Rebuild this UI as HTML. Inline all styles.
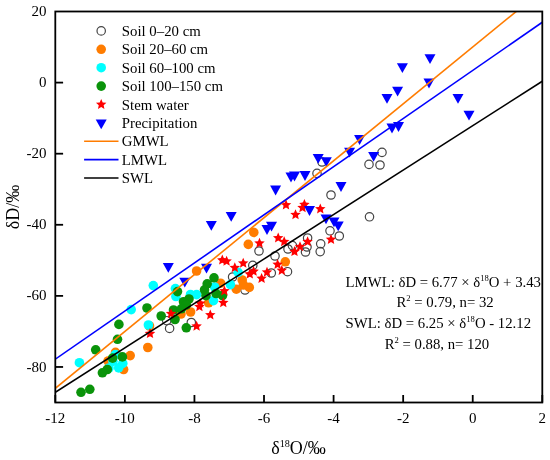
<!DOCTYPE html>
<html><head><meta charset="utf-8"><title>Isotope plot</title>
<style>
html,body{margin:0;padding:0;background:#fff;}
body{width:550px;height:460px;overflow:hidden;}
svg{display:block;}
text{font-family:"Liberation Serif", "Times New Roman", serif;fill:#000;}
.t{font-size:15px;}
.lg{font-size:14.8px;}
.ax{font-size:18px;}
.an{font-size:14.75px;}
.sup{font-size:8.6px;}
</style></head>
<body>
<svg width="550" height="460" viewBox="0 0 550 460">
<defs><clipPath id="pc"><rect x="55.3" y="11.5" width="486.99999999999994" height="391.0"/></clipPath></defs>
<circle cx="382.0" cy="152.4" r="4.20" fill="none" stroke="#444" stroke-width="1.2"/>
<circle cx="369.0" cy="164.4" r="4.20" fill="none" stroke="#444" stroke-width="1.2"/>
<circle cx="380.0" cy="165.0" r="4.20" fill="none" stroke="#444" stroke-width="1.2"/>
<circle cx="322.0" cy="162.0" r="4.20" fill="none" stroke="#444" stroke-width="1.2"/>
<circle cx="317.0" cy="173.4" r="4.20" fill="none" stroke="#444" stroke-width="1.2"/>
<circle cx="331.0" cy="195.0" r="4.20" fill="none" stroke="#444" stroke-width="1.2"/>
<circle cx="369.5" cy="216.8" r="4.20" fill="none" stroke="#444" stroke-width="1.2"/>
<circle cx="330.0" cy="230.8" r="4.20" fill="none" stroke="#444" stroke-width="1.2"/>
<circle cx="339.3" cy="236.0" r="4.20" fill="none" stroke="#444" stroke-width="1.2"/>
<circle cx="307.6" cy="238.0" r="4.20" fill="none" stroke="#444" stroke-width="1.2"/>
<circle cx="307.0" cy="247.0" r="4.20" fill="none" stroke="#444" stroke-width="1.2"/>
<circle cx="305.5" cy="252.0" r="4.20" fill="none" stroke="#444" stroke-width="1.2"/>
<circle cx="320.7" cy="243.8" r="4.20" fill="none" stroke="#444" stroke-width="1.2"/>
<circle cx="320.2" cy="251.6" r="4.20" fill="none" stroke="#444" stroke-width="1.2"/>
<circle cx="288.0" cy="249.0" r="4.20" fill="none" stroke="#444" stroke-width="1.2"/>
<circle cx="292.4" cy="245.6" r="4.20" fill="none" stroke="#444" stroke-width="1.2"/>
<circle cx="275.0" cy="256.0" r="4.20" fill="none" stroke="#444" stroke-width="1.2"/>
<circle cx="259.0" cy="251.0" r="4.20" fill="none" stroke="#444" stroke-width="1.2"/>
<circle cx="252.8" cy="265.4" r="4.20" fill="none" stroke="#444" stroke-width="1.2"/>
<circle cx="271.3" cy="273.0" r="4.20" fill="none" stroke="#444" stroke-width="1.2"/>
<circle cx="287.5" cy="271.7" r="4.20" fill="none" stroke="#444" stroke-width="1.2"/>
<circle cx="232.6" cy="277.0" r="4.20" fill="none" stroke="#444" stroke-width="1.2"/>
<circle cx="245.0" cy="290.0" r="4.20" fill="none" stroke="#444" stroke-width="1.2"/>
<circle cx="169.6" cy="328.4" r="4.20" fill="none" stroke="#444" stroke-width="1.2"/>
<circle cx="191.3" cy="322.5" r="4.20" fill="none" stroke="#444" stroke-width="1.2"/>
<circle cx="166.7" cy="320.7" r="4.20" fill="none" stroke="#444" stroke-width="1.2"/>
<circle cx="253.8" cy="232.4" r="4.80" fill="#ff7c00"/>
<circle cx="248.3" cy="244.4" r="4.80" fill="#ff7c00"/>
<circle cx="285.3" cy="261.8" r="4.80" fill="#ff7c00"/>
<circle cx="196.6" cy="271.0" r="4.80" fill="#ff7c00"/>
<circle cx="220.6" cy="283.2" r="4.80" fill="#ff7c00"/>
<circle cx="242.2" cy="280.0" r="4.80" fill="#ff7c00"/>
<circle cx="249.3" cy="287.4" r="4.80" fill="#ff7c00"/>
<circle cx="236.3" cy="289.2" r="4.80" fill="#ff7c00"/>
<circle cx="243.4" cy="285.0" r="4.80" fill="#ff7c00"/>
<circle cx="208.6" cy="302.8" r="4.80" fill="#ff7c00"/>
<circle cx="190.6" cy="312.0" r="4.80" fill="#ff7c00"/>
<circle cx="181.0" cy="314.0" r="4.80" fill="#ff7c00"/>
<circle cx="149.5" cy="326.0" r="4.80" fill="#ff7c00"/>
<circle cx="147.8" cy="347.5" r="4.80" fill="#ff7c00"/>
<circle cx="130.2" cy="355.6" r="4.80" fill="#ff7c00"/>
<circle cx="115.5" cy="352.4" r="4.80" fill="#ff7c00"/>
<circle cx="108.1" cy="361.0" r="4.80" fill="#ff7c00"/>
<circle cx="123.6" cy="369.5" r="4.80" fill="#ff7c00"/>
<circle cx="238.1" cy="272.4" r="4.80" fill="#00ffff"/>
<circle cx="230.4" cy="284.6" r="4.80" fill="#00ffff"/>
<circle cx="214.6" cy="287.0" r="4.80" fill="#00ffff"/>
<circle cx="213.5" cy="300.6" r="4.80" fill="#00ffff"/>
<circle cx="175.4" cy="288.6" r="4.80" fill="#00ffff"/>
<circle cx="175.9" cy="296.5" r="4.80" fill="#00ffff"/>
<circle cx="196.6" cy="294.6" r="4.80" fill="#00ffff"/>
<circle cx="190.5" cy="294.5" r="4.80" fill="#00ffff"/>
<circle cx="153.3" cy="285.6" r="4.80" fill="#00ffff"/>
<circle cx="131.2" cy="309.6" r="4.80" fill="#00ffff"/>
<circle cx="148.4" cy="325.0" r="4.80" fill="#00ffff"/>
<circle cx="79.4" cy="362.7" r="4.80" fill="#00ffff"/>
<circle cx="115.5" cy="354.5" r="4.80" fill="#00ffff"/>
<circle cx="113.0" cy="361.4" r="4.80" fill="#00ffff"/>
<circle cx="122.8" cy="363.4" r="4.80" fill="#00ffff"/>
<circle cx="118.7" cy="367.9" r="4.80" fill="#00ffff"/>
<circle cx="109.0" cy="368.0" r="4.80" fill="#00ffff"/>
<circle cx="214.0" cy="277.8" r="4.80" fill="#0a930a"/>
<circle cx="207.2" cy="283.8" r="4.80" fill="#0a930a"/>
<circle cx="204.5" cy="289.8" r="4.80" fill="#0a930a"/>
<circle cx="206.0" cy="295.7" r="4.80" fill="#0a930a"/>
<circle cx="216.0" cy="293.5" r="4.80" fill="#0a930a"/>
<circle cx="222.5" cy="295.5" r="4.80" fill="#0a930a"/>
<circle cx="177.5" cy="291.6" r="4.80" fill="#0a930a"/>
<circle cx="189.0" cy="299.0" r="4.80" fill="#0a930a"/>
<circle cx="183.5" cy="301.7" r="4.80" fill="#0a930a"/>
<circle cx="186.3" cy="305.0" r="4.80" fill="#0a930a"/>
<circle cx="173.5" cy="310.0" r="4.80" fill="#0a930a"/>
<circle cx="181.4" cy="308.8" r="4.80" fill="#0a930a"/>
<circle cx="161.2" cy="316.0" r="4.80" fill="#0a930a"/>
<circle cx="175.0" cy="319.5" r="4.80" fill="#0a930a"/>
<circle cx="186.3" cy="327.8" r="4.80" fill="#0a930a"/>
<circle cx="147.0" cy="308.0" r="4.80" fill="#0a930a"/>
<circle cx="118.9" cy="324.4" r="4.80" fill="#0a930a"/>
<circle cx="117.5" cy="339.3" r="4.80" fill="#0a930a"/>
<circle cx="95.7" cy="349.8" r="4.80" fill="#0a930a"/>
<circle cx="112.6" cy="358.1" r="4.80" fill="#0a930a"/>
<circle cx="122.4" cy="356.9" r="4.80" fill="#0a930a"/>
<circle cx="107.3" cy="369.5" r="4.80" fill="#0a930a"/>
<circle cx="102.4" cy="372.8" r="4.80" fill="#0a930a"/>
<circle cx="81.0" cy="392.3" r="4.80" fill="#0a930a"/>
<circle cx="89.8" cy="389.3" r="4.80" fill="#0a930a"/>
<polygon points="286.00,199.50 287.50,202.94 291.23,203.30 288.43,205.79 289.23,209.45 286.00,207.55 282.77,209.45 283.57,205.79 280.77,203.30 284.50,202.94" fill="#ff0000"/>
<polygon points="304.40,199.10 305.90,202.54 309.63,202.90 306.83,205.39 307.63,209.05 304.40,207.15 301.17,209.05 301.97,205.39 299.17,202.90 302.90,202.54" fill="#ff0000"/>
<polygon points="302.50,202.30 304.00,205.74 307.73,206.10 304.93,208.59 305.73,212.25 302.50,210.35 299.27,212.25 300.07,208.59 297.27,206.10 301.00,205.74" fill="#ff0000"/>
<polygon points="295.50,209.30 297.00,212.74 300.73,213.10 297.93,215.59 298.73,219.25 295.50,217.35 292.27,219.25 293.07,215.59 290.27,213.10 294.00,212.74" fill="#ff0000"/>
<polygon points="320.30,203.50 321.80,206.94 325.53,207.30 322.73,209.79 323.53,213.45 320.30,211.55 317.07,213.45 317.87,209.79 315.07,207.30 318.80,206.94" fill="#ff0000"/>
<polygon points="331.00,234.00 332.50,237.44 336.23,237.80 333.43,240.29 334.23,243.95 331.00,242.05 327.77,243.95 328.57,240.29 325.77,237.80 329.50,237.44" fill="#ff0000"/>
<polygon points="278.20,232.50 279.70,235.94 283.43,236.30 280.63,238.79 281.43,242.45 278.20,240.55 274.97,242.45 275.77,238.79 272.97,236.30 276.70,235.94" fill="#ff0000"/>
<polygon points="284.20,236.30 285.70,239.74 289.43,240.10 286.63,242.59 287.43,246.25 284.20,244.35 280.97,246.25 281.77,242.59 278.97,240.10 282.70,239.74" fill="#ff0000"/>
<polygon points="294.50,246.10 296.00,249.54 299.73,249.90 296.93,252.39 297.73,256.05 294.50,254.15 291.27,256.05 292.07,252.39 289.27,249.90 293.00,249.54" fill="#ff0000"/>
<polygon points="300.00,241.20 301.50,244.64 305.23,245.00 302.43,247.49 303.23,251.15 300.00,249.25 296.77,251.15 297.57,247.49 294.77,245.00 298.50,244.64" fill="#ff0000"/>
<polygon points="307.60,236.30 309.10,239.74 312.83,240.10 310.03,242.59 310.83,246.25 307.60,244.35 304.37,246.25 305.17,242.59 302.37,240.10 306.10,239.74" fill="#ff0000"/>
<polygon points="277.60,259.00 279.10,262.44 282.83,262.80 280.03,265.29 280.83,268.95 277.60,267.05 274.37,268.95 275.17,265.29 272.37,262.80 276.10,262.44" fill="#ff0000"/>
<polygon points="259.50,237.80 261.00,241.24 264.73,241.60 261.93,244.09 262.73,247.75 259.50,245.85 256.27,247.75 257.07,244.09 254.27,241.60 258.00,241.24" fill="#ff0000"/>
<polygon points="222.30,254.60 223.80,258.04 227.53,258.40 224.73,260.89 225.53,264.55 222.30,262.65 219.07,264.55 219.87,260.89 217.07,258.40 220.80,258.04" fill="#ff0000"/>
<polygon points="226.60,255.70 228.10,259.14 231.83,259.50 229.03,261.99 229.83,265.65 226.60,263.75 223.37,265.65 224.17,261.99 221.37,259.50 225.10,259.14" fill="#ff0000"/>
<polygon points="243.20,257.80 244.70,261.24 248.43,261.60 245.63,264.09 246.43,267.75 243.20,265.85 239.97,267.75 240.77,264.09 237.97,261.60 241.70,261.24" fill="#ff0000"/>
<polygon points="234.80,262.20 236.30,265.64 240.03,266.00 237.23,268.49 238.03,272.15 234.80,270.25 231.57,272.15 232.37,268.49 229.57,266.00 233.30,265.64" fill="#ff0000"/>
<polygon points="249.80,268.60 251.30,272.04 255.03,272.40 252.23,274.89 253.03,278.55 249.80,276.65 246.57,278.55 247.37,274.89 244.57,272.40 248.30,272.04" fill="#ff0000"/>
<polygon points="253.60,265.90 255.10,269.34 258.83,269.70 256.03,272.19 256.83,275.85 253.60,273.95 250.37,275.85 251.17,272.19 248.37,269.70 252.10,269.34" fill="#ff0000"/>
<polygon points="261.60,273.00 263.10,276.44 266.83,276.80 264.03,279.29 264.83,282.95 261.60,281.05 258.37,282.95 259.17,279.29 256.37,276.80 260.10,276.44" fill="#ff0000"/>
<polygon points="267.00,266.70 268.50,270.14 272.23,270.50 269.43,272.99 270.23,276.65 267.00,274.75 263.77,276.65 264.57,272.99 261.77,270.50 265.50,270.14" fill="#ff0000"/>
<polygon points="281.80,265.00 283.30,268.44 287.03,268.80 284.23,271.29 285.03,274.95 281.80,273.05 278.57,274.95 279.37,271.29 276.57,268.80 280.30,268.44" fill="#ff0000"/>
<polygon points="224.40,285.50 225.90,288.94 229.63,289.30 226.83,291.79 227.63,295.45 224.40,293.55 221.17,295.45 221.97,291.79 219.17,289.30 222.90,288.94" fill="#ff0000"/>
<polygon points="223.30,297.30 224.80,300.74 228.53,301.10 225.73,303.59 226.53,307.25 223.30,305.35 220.07,307.25 220.87,303.59 218.07,301.10 221.80,300.74" fill="#ff0000"/>
<polygon points="200.20,297.90 201.70,301.34 205.43,301.70 202.63,304.19 203.43,307.85 200.20,305.95 196.97,307.85 197.77,304.19 194.97,301.70 198.70,301.34" fill="#ff0000"/>
<polygon points="199.40,301.30 200.90,304.74 204.63,305.10 201.83,307.59 202.63,311.25 199.40,309.35 196.17,311.25 196.97,307.59 194.17,305.10 197.90,304.74" fill="#ff0000"/>
<polygon points="171.00,308.20 172.50,311.64 176.23,312.00 173.43,314.49 174.23,318.15 171.00,316.25 167.77,318.15 168.57,314.49 165.77,312.00 169.50,311.64" fill="#ff0000"/>
<polygon points="210.30,309.50 211.80,312.94 215.53,313.30 212.73,315.79 213.53,319.45 210.30,317.55 207.07,319.45 207.87,315.79 205.07,313.30 208.80,312.94" fill="#ff0000"/>
<polygon points="196.60,320.70 198.10,324.14 201.83,324.50 199.03,326.99 199.83,330.65 196.60,328.75 193.37,330.65 194.17,326.99 191.37,324.50 195.10,324.14" fill="#ff0000"/>
<polygon points="150.00,328.10 151.50,331.54 155.23,331.90 152.43,334.39 153.23,338.05 150.00,336.15 146.77,338.05 147.57,334.39 144.77,331.90 148.50,331.54" fill="#ff0000"/>
<polygon points="424.50,54.30 435.50,54.30 430.00,64.10" fill="#0000ff"/>
<polygon points="396.90,63.30 407.90,63.30 402.40,73.10" fill="#0000ff"/>
<polygon points="423.50,78.60 434.50,78.60 429.00,88.40" fill="#0000ff"/>
<polygon points="392.10,86.80 403.10,86.80 397.60,96.60" fill="#0000ff"/>
<polygon points="381.50,93.90 392.50,93.90 387.00,103.70" fill="#0000ff"/>
<polygon points="452.50,93.90 463.50,93.90 458.00,103.70" fill="#0000ff"/>
<polygon points="463.50,110.80 474.50,110.80 469.00,120.60" fill="#0000ff"/>
<polygon points="386.50,123.60 397.50,123.60 392.00,133.40" fill="#0000ff"/>
<polygon points="393.00,122.10 404.00,122.10 398.50,131.90" fill="#0000ff"/>
<polygon points="354.10,135.10 365.10,135.10 359.60,144.90" fill="#0000ff"/>
<polygon points="344.10,147.80 355.10,147.80 349.60,157.60" fill="#0000ff"/>
<polygon points="368.10,151.90 379.10,151.90 373.60,161.70" fill="#0000ff"/>
<polygon points="312.70,154.00 323.70,154.00 318.20,163.80" fill="#0000ff"/>
<polygon points="320.80,157.30 331.80,157.30 326.30,167.10" fill="#0000ff"/>
<polygon points="285.50,172.60 296.50,172.60 291.00,182.40" fill="#0000ff"/>
<polygon points="289.00,171.60 300.00,171.60 294.50,181.40" fill="#0000ff"/>
<polygon points="299.50,171.10 310.50,171.10 305.00,180.90" fill="#0000ff"/>
<polygon points="270.10,185.60 281.10,185.60 275.60,195.40" fill="#0000ff"/>
<polygon points="335.50,182.10 346.50,182.10 341.00,191.90" fill="#0000ff"/>
<polygon points="304.00,206.10 315.00,206.10 309.50,215.90" fill="#0000ff"/>
<polygon points="320.50,214.40 331.50,214.40 326.00,224.20" fill="#0000ff"/>
<polygon points="328.50,217.40 339.50,217.40 334.00,227.20" fill="#0000ff"/>
<polygon points="332.70,221.50 343.70,221.50 338.20,231.30" fill="#0000ff"/>
<polygon points="266.00,221.70 277.00,221.70 271.50,231.50" fill="#0000ff"/>
<polygon points="261.50,225.10 272.50,225.10 267.00,234.90" fill="#0000ff"/>
<polygon points="225.70,212.00 236.70,212.00 231.20,221.80" fill="#0000ff"/>
<polygon points="205.80,220.90 216.80,220.90 211.30,230.70" fill="#0000ff"/>
<polygon points="201.00,263.80 212.00,263.80 206.50,273.60" fill="#0000ff"/>
<polygon points="162.80,262.90 173.80,262.90 168.30,272.70" fill="#0000ff"/>
<polygon points="179.30,277.70 190.30,277.70 184.80,287.50" fill="#0000ff"/>
<g clip-path="url(#pc)">
<line x1="55.30" y1="388.29" x2="542.30" y2="-9.82" stroke="#ff7c00" stroke-width="1.6"/>
<line x1="55.30" y1="359.18" x2="542.30" y2="22.28" stroke="#0000ff" stroke-width="1.6"/>
<line x1="55.30" y1="392.27" x2="542.30" y2="81.25" stroke="#000000" stroke-width="1.6"/>
</g>
<rect x="55.3" y="11.5" width="486.99999999999994" height="391.0" fill="none" stroke="#000" stroke-width="1.8"/>
<line x1="55.30" y1="402.5" x2="55.30" y2="395.0" stroke="#000" stroke-width="1.8"/>
<text x="55.30" y="422.5" text-anchor="middle" class="t">-12</text>
<line x1="124.87" y1="402.5" x2="124.87" y2="395.0" stroke="#000" stroke-width="1.8"/>
<text x="124.87" y="422.5" text-anchor="middle" class="t">-10</text>
<line x1="194.44" y1="402.5" x2="194.44" y2="395.0" stroke="#000" stroke-width="1.8"/>
<text x="194.44" y="422.5" text-anchor="middle" class="t">-8</text>
<line x1="264.01" y1="402.5" x2="264.01" y2="395.0" stroke="#000" stroke-width="1.8"/>
<text x="264.01" y="422.5" text-anchor="middle" class="t">-6</text>
<line x1="333.59" y1="402.5" x2="333.59" y2="395.0" stroke="#000" stroke-width="1.8"/>
<text x="333.59" y="422.5" text-anchor="middle" class="t">-4</text>
<line x1="403.16" y1="402.5" x2="403.16" y2="395.0" stroke="#000" stroke-width="1.8"/>
<text x="403.16" y="422.5" text-anchor="middle" class="t">-2</text>
<line x1="472.73" y1="402.5" x2="472.73" y2="395.0" stroke="#000" stroke-width="1.8"/>
<text x="472.73" y="422.5" text-anchor="middle" class="t">0</text>
<line x1="542.30" y1="402.5" x2="542.30" y2="395.0" stroke="#000" stroke-width="1.8"/>
<text x="542.30" y="422.5" text-anchor="middle" class="t">2</text>
<line x1="55.3" y1="366.96" x2="63.099999999999994" y2="366.96" stroke="#000" stroke-width="1.8"/>
<text x="46.5" y="371.56" text-anchor="end" class="t">-80</text>
<line x1="55.3" y1="295.87" x2="63.099999999999994" y2="295.87" stroke="#000" stroke-width="1.8"/>
<text x="46.5" y="300.47" text-anchor="end" class="t">-60</text>
<line x1="55.3" y1="224.78" x2="63.099999999999994" y2="224.78" stroke="#000" stroke-width="1.8"/>
<text x="46.5" y="229.38" text-anchor="end" class="t">-40</text>
<line x1="55.3" y1="153.69" x2="63.099999999999994" y2="153.69" stroke="#000" stroke-width="1.8"/>
<text x="46.5" y="158.29" text-anchor="end" class="t">-20</text>
<line x1="55.3" y1="82.60" x2="63.099999999999994" y2="82.60" stroke="#000" stroke-width="1.8"/>
<text x="46.5" y="87.20" text-anchor="end" class="t">0</text>
<text x="46.5" y="16.11" text-anchor="end" class="t">20</text>
<text x="298.5" y="453.5" text-anchor="middle" class="ax">δ<tspan font-size="10.2" dy="-7">18</tspan><tspan dy="7">O/‰</tspan></text>
<text transform="translate(19,207) rotate(-90)" x="0" y="0" text-anchor="middle" class="ax">δD/‰</text>
<circle cx="101.2" cy="30.9" r="4.20" fill="none" stroke="#444" stroke-width="1.2"/>
<text x="121.8" y="36.10" class="lg">Soil 0–20 cm</text>
<circle cx="101.2" cy="49.3" r="4.80" fill="#ff7c00"/>
<text x="121.8" y="54.49" class="lg">Soil 20–60 cm</text>
<circle cx="101.2" cy="67.7" r="4.80" fill="#00ffff"/>
<text x="121.8" y="72.88" class="lg">Soil 60–100 cm</text>
<circle cx="101.2" cy="86.1" r="4.80" fill="#0a930a"/>
<text x="121.8" y="91.27" class="lg">Soil 100–150 cm</text>
<polygon points="101.20,98.96 102.70,102.40 106.43,102.76 103.63,105.25 104.43,108.91 101.20,107.01 97.97,108.91 98.77,105.25 95.97,102.76 99.70,102.40" fill="#ff0000"/>
<text x="121.8" y="109.66" class="lg">Stem water</text>
<polygon points="95.70,119.55 106.70,119.55 101.20,129.35" fill="#0000ff"/>
<text x="121.8" y="128.05" class="lg">Precipitation</text>
<line x1="84.1" y1="141.24" x2="118.5" y2="141.24" stroke="#ff7c00" stroke-width="1.6"/>
<text x="121.8" y="146.44" class="lg">GMWL</text>
<line x1="84.1" y1="159.63" x2="118.5" y2="159.63" stroke="#0000ff" stroke-width="1.6"/>
<text x="121.8" y="164.83" class="lg">LMWL</text>
<line x1="84.1" y1="178.02" x2="118.5" y2="178.02" stroke="#000000" stroke-width="1.6"/>
<text x="121.8" y="183.22" class="lg">SWL</text>
<text x="345.6" y="287.3" class="an">LMWL: δD = 6.77 × δ<tspan class="sup" dy="-6">18</tspan><tspan dy="6">O + 3.43</tspan></text>
<text x="396.5" y="307.2" class="an">R<tspan class="sup" dy="-6">2</tspan><tspan dy="6"> = 0.79, n= 32</tspan></text>
<text x="345.6" y="328.3" class="an">SWL: δD = 6.25 × δ<tspan class="sup" dy="-6">18</tspan><tspan dy="6">O - 12.12</tspan></text>
<text x="384.7" y="349.1" class="an">R<tspan class="sup" dy="-6">2</tspan><tspan dy="6"> = 0.88, n= 120</tspan></text>
</svg>
</body></html>
